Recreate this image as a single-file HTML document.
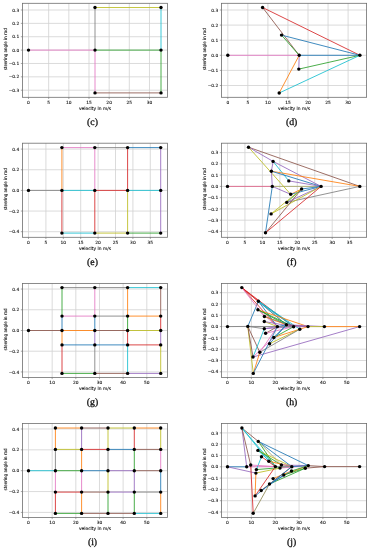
<!DOCTYPE html>
<html><head><meta charset="utf-8"><style>
html,body{margin:0;padding:0;background:#fff;width:369px;height:550px;overflow:hidden}
svg{display:block}
text{font-family:"DejaVu Sans","Liberation Sans",sans-serif;font-size:4.4px;fill:#111;stroke:#111;stroke-width:0.1px;text-rendering:geometricPrecision}
text.cap{font-family:"Liberation Serif","DejaVu Serif",serif;font-size:9.8px;fill:#111;stroke:#111;stroke-width:0.3px}
</style></head><body>
<svg width="369" height="550" viewBox="0 0 369 550">
<rect width="369" height="550" fill="#fff"/>
<line x1="28.50" y1="3.30" x2="28.50" y2="97.30" stroke="#d2d2d2" stroke-width="0.8"/>
<line x1="48.67" y1="3.30" x2="48.67" y2="97.30" stroke="#d2d2d2" stroke-width="0.8"/>
<line x1="68.83" y1="3.30" x2="68.83" y2="97.30" stroke="#d2d2d2" stroke-width="0.8"/>
<line x1="89.00" y1="3.30" x2="89.00" y2="97.30" stroke="#d2d2d2" stroke-width="0.8"/>
<line x1="109.16" y1="3.30" x2="109.16" y2="97.30" stroke="#d2d2d2" stroke-width="0.8"/>
<line x1="129.32" y1="3.30" x2="129.32" y2="97.30" stroke="#d2d2d2" stroke-width="0.8"/>
<line x1="149.49" y1="3.30" x2="149.49" y2="97.30" stroke="#d2d2d2" stroke-width="0.8"/>
<line x1="22.50" y1="90.21" x2="167.40" y2="90.21" stroke="#d2d2d2" stroke-width="0.8"/>
<line x1="22.50" y1="76.84" x2="167.40" y2="76.84" stroke="#d2d2d2" stroke-width="0.8"/>
<line x1="22.50" y1="63.47" x2="167.40" y2="63.47" stroke="#d2d2d2" stroke-width="0.8"/>
<line x1="22.50" y1="50.10" x2="167.40" y2="50.10" stroke="#d2d2d2" stroke-width="0.8"/>
<line x1="22.50" y1="36.73" x2="167.40" y2="36.73" stroke="#d2d2d2" stroke-width="0.8"/>
<line x1="22.50" y1="23.36" x2="167.40" y2="23.36" stroke="#d2d2d2" stroke-width="0.8"/>
<line x1="22.50" y1="9.99" x2="167.40" y2="9.99" stroke="#d2d2d2" stroke-width="0.8"/>
<line x1="28.50" y1="50.10" x2="95.00" y2="50.10" stroke="#e377c2" stroke-width="1.0" stroke-opacity="0.85"/>
<line x1="95.00" y1="50.10" x2="95.00" y2="7.50" stroke="#7f7f7f" stroke-width="1.0" stroke-opacity="0.85"/>
<line x1="95.00" y1="50.10" x2="95.00" y2="92.90" stroke="#e377c2" stroke-width="1.0" stroke-opacity="0.85"/>
<line x1="95.00" y1="7.50" x2="161.00" y2="7.50" stroke="#bcbd22" stroke-width="1.0" stroke-opacity="0.85"/>
<line x1="161.00" y1="7.50" x2="161.00" y2="50.10" stroke="#17becf" stroke-width="1.0" stroke-opacity="0.85"/>
<line x1="95.00" y1="50.10" x2="161.00" y2="50.10" stroke="#2ca02c" stroke-width="1.0" stroke-opacity="0.85"/>
<line x1="161.00" y1="50.10" x2="161.00" y2="92.90" stroke="#2ca02c" stroke-width="1.0" stroke-opacity="0.85"/>
<line x1="95.00" y1="92.90" x2="161.00" y2="92.90" stroke="#8c564b" stroke-width="1.0" stroke-opacity="0.85"/>
<circle cx="28.50" cy="50.10" r="1.7" fill="#000"/>
<circle cx="95.00" cy="7.50" r="1.7" fill="#000"/>
<circle cx="95.00" cy="50.10" r="1.7" fill="#000"/>
<circle cx="95.00" cy="92.90" r="1.7" fill="#000"/>
<circle cx="161.00" cy="7.50" r="1.7" fill="#000"/>
<circle cx="161.00" cy="50.10" r="1.7" fill="#000"/>
<circle cx="161.00" cy="92.90" r="1.7" fill="#000"/>
<rect x="22.50" y="3.30" width="144.90" height="94.00" fill="none" stroke="#6e6e6e" stroke-width="0.8"/>
<line x1="28.50" y1="97.30" x2="28.50" y2="99.00" stroke="#6e6e6e" stroke-width="0.6"/>
<text x="28.50" y="103.60" text-anchor="middle">0</text>
<line x1="48.67" y1="97.30" x2="48.67" y2="99.00" stroke="#6e6e6e" stroke-width="0.6"/>
<text x="48.67" y="103.60" text-anchor="middle">5</text>
<line x1="68.83" y1="97.30" x2="68.83" y2="99.00" stroke="#6e6e6e" stroke-width="0.6"/>
<text x="68.83" y="103.60" text-anchor="middle">10</text>
<line x1="89.00" y1="97.30" x2="89.00" y2="99.00" stroke="#6e6e6e" stroke-width="0.6"/>
<text x="89.00" y="103.60" text-anchor="middle">15</text>
<line x1="109.16" y1="97.30" x2="109.16" y2="99.00" stroke="#6e6e6e" stroke-width="0.6"/>
<text x="109.16" y="103.60" text-anchor="middle">20</text>
<line x1="129.32" y1="97.30" x2="129.32" y2="99.00" stroke="#6e6e6e" stroke-width="0.6"/>
<text x="129.32" y="103.60" text-anchor="middle">25</text>
<line x1="149.49" y1="97.30" x2="149.49" y2="99.00" stroke="#6e6e6e" stroke-width="0.6"/>
<text x="149.49" y="103.60" text-anchor="middle">30</text>
<line x1="20.80" y1="90.21" x2="22.50" y2="90.21" stroke="#6e6e6e" stroke-width="0.6"/>
<text x="19.30" y="91.81" text-anchor="end">−0.3</text>
<line x1="20.80" y1="76.84" x2="22.50" y2="76.84" stroke="#6e6e6e" stroke-width="0.6"/>
<text x="19.30" y="78.44" text-anchor="end">−0.2</text>
<line x1="20.80" y1="63.47" x2="22.50" y2="63.47" stroke="#6e6e6e" stroke-width="0.6"/>
<text x="19.30" y="65.07" text-anchor="end">−0.1</text>
<line x1="20.80" y1="50.10" x2="22.50" y2="50.10" stroke="#6e6e6e" stroke-width="0.6"/>
<text x="19.30" y="51.70" text-anchor="end">0.0</text>
<line x1="20.80" y1="36.73" x2="22.50" y2="36.73" stroke="#6e6e6e" stroke-width="0.6"/>
<text x="19.30" y="38.33" text-anchor="end">0.1</text>
<line x1="20.80" y1="23.36" x2="22.50" y2="23.36" stroke="#6e6e6e" stroke-width="0.6"/>
<text x="19.30" y="24.96" text-anchor="end">0.2</text>
<line x1="20.80" y1="9.99" x2="22.50" y2="9.99" stroke="#6e6e6e" stroke-width="0.6"/>
<text x="19.30" y="11.59" text-anchor="end">0.3</text>
<text x="94.95" y="109.90" text-anchor="middle">velocity in m/s</text>
<text transform="translate(6.50,49.30) rotate(-90) scale(0.92,1)" x="0" y="0" text-anchor="middle">steering angle in rad</text>
<text class="cap" x="92.50" y="125.30" text-anchor="middle">(c)</text>
<line x1="227.80" y1="3.30" x2="227.80" y2="97.30" stroke="#d2d2d2" stroke-width="0.8"/>
<line x1="247.85" y1="3.30" x2="247.85" y2="97.30" stroke="#d2d2d2" stroke-width="0.8"/>
<line x1="267.90" y1="3.30" x2="267.90" y2="97.30" stroke="#d2d2d2" stroke-width="0.8"/>
<line x1="287.95" y1="3.30" x2="287.95" y2="97.30" stroke="#d2d2d2" stroke-width="0.8"/>
<line x1="308.00" y1="3.30" x2="308.00" y2="97.30" stroke="#d2d2d2" stroke-width="0.8"/>
<line x1="328.05" y1="3.30" x2="328.05" y2="97.30" stroke="#d2d2d2" stroke-width="0.8"/>
<line x1="348.10" y1="3.30" x2="348.10" y2="97.30" stroke="#d2d2d2" stroke-width="0.8"/>
<line x1="221.50" y1="85.50" x2="366.60" y2="85.50" stroke="#d2d2d2" stroke-width="0.8"/>
<line x1="221.50" y1="70.40" x2="366.60" y2="70.40" stroke="#d2d2d2" stroke-width="0.8"/>
<line x1="221.50" y1="55.30" x2="366.60" y2="55.30" stroke="#d2d2d2" stroke-width="0.8"/>
<line x1="221.50" y1="40.20" x2="366.60" y2="40.20" stroke="#d2d2d2" stroke-width="0.8"/>
<line x1="221.50" y1="25.10" x2="366.60" y2="25.10" stroke="#d2d2d2" stroke-width="0.8"/>
<line x1="221.50" y1="10.00" x2="366.60" y2="10.00" stroke="#d2d2d2" stroke-width="0.8"/>
<line x1="227.80" y1="55.30" x2="299.20" y2="55.30" stroke="#e377c2" stroke-width="1.0" stroke-opacity="0.85"/>
<line x1="262.60" y1="7.50" x2="359.90" y2="55.30" stroke="#d62728" stroke-width="1.0" stroke-opacity="0.85"/>
<line x1="262.60" y1="7.50" x2="299.20" y2="55.30" stroke="#8c564b" stroke-width="1.0" stroke-opacity="0.85"/>
<line x1="281.50" y1="35.10" x2="299.20" y2="55.30" stroke="#2ca02c" stroke-width="1.0" stroke-opacity="0.85"/>
<line x1="281.50" y1="35.10" x2="359.90" y2="55.30" stroke="#1f77b4" stroke-width="1.0" stroke-opacity="0.85"/>
<line x1="299.20" y1="55.30" x2="359.90" y2="55.30" stroke="#1f77b4" stroke-width="1.0" stroke-opacity="0.85"/>
<line x1="299.20" y1="55.30" x2="298.80" y2="69.10" stroke="#9467bd" stroke-width="1.0" stroke-opacity="0.85"/>
<line x1="298.80" y1="69.10" x2="359.90" y2="55.30" stroke="#2ca02c" stroke-width="1.0" stroke-opacity="0.85"/>
<line x1="279.20" y1="93.00" x2="299.20" y2="55.30" stroke="#ff7f0e" stroke-width="1.0" stroke-opacity="0.85"/>
<line x1="279.20" y1="93.00" x2="359.90" y2="55.30" stroke="#17becf" stroke-width="1.0" stroke-opacity="0.85"/>
<circle cx="227.80" cy="55.30" r="1.7" fill="#000"/>
<circle cx="262.60" cy="7.50" r="1.7" fill="#000"/>
<circle cx="281.50" cy="35.10" r="1.7" fill="#000"/>
<circle cx="299.20" cy="55.30" r="1.7" fill="#000"/>
<circle cx="298.80" cy="69.10" r="1.7" fill="#000"/>
<circle cx="279.20" cy="93.00" r="1.7" fill="#000"/>
<circle cx="359.90" cy="55.30" r="1.7" fill="#000"/>
<rect x="221.50" y="3.30" width="145.10" height="94.00" fill="none" stroke="#6e6e6e" stroke-width="0.8"/>
<line x1="227.80" y1="97.30" x2="227.80" y2="99.00" stroke="#6e6e6e" stroke-width="0.6"/>
<text x="227.80" y="103.60" text-anchor="middle">0</text>
<line x1="247.85" y1="97.30" x2="247.85" y2="99.00" stroke="#6e6e6e" stroke-width="0.6"/>
<text x="247.85" y="103.60" text-anchor="middle">5</text>
<line x1="267.90" y1="97.30" x2="267.90" y2="99.00" stroke="#6e6e6e" stroke-width="0.6"/>
<text x="267.90" y="103.60" text-anchor="middle">10</text>
<line x1="287.95" y1="97.30" x2="287.95" y2="99.00" stroke="#6e6e6e" stroke-width="0.6"/>
<text x="287.95" y="103.60" text-anchor="middle">15</text>
<line x1="308.00" y1="97.30" x2="308.00" y2="99.00" stroke="#6e6e6e" stroke-width="0.6"/>
<text x="308.00" y="103.60" text-anchor="middle">20</text>
<line x1="328.05" y1="97.30" x2="328.05" y2="99.00" stroke="#6e6e6e" stroke-width="0.6"/>
<text x="328.05" y="103.60" text-anchor="middle">25</text>
<line x1="348.10" y1="97.30" x2="348.10" y2="99.00" stroke="#6e6e6e" stroke-width="0.6"/>
<text x="348.10" y="103.60" text-anchor="middle">30</text>
<line x1="219.80" y1="85.50" x2="221.50" y2="85.50" stroke="#6e6e6e" stroke-width="0.6"/>
<text x="218.30" y="87.10" text-anchor="end">−0.2</text>
<line x1="219.80" y1="70.40" x2="221.50" y2="70.40" stroke="#6e6e6e" stroke-width="0.6"/>
<text x="218.30" y="72.00" text-anchor="end">−0.1</text>
<line x1="219.80" y1="55.30" x2="221.50" y2="55.30" stroke="#6e6e6e" stroke-width="0.6"/>
<text x="218.30" y="56.90" text-anchor="end">0.0</text>
<line x1="219.80" y1="40.20" x2="221.50" y2="40.20" stroke="#6e6e6e" stroke-width="0.6"/>
<text x="218.30" y="41.80" text-anchor="end">0.1</text>
<line x1="219.80" y1="25.10" x2="221.50" y2="25.10" stroke="#6e6e6e" stroke-width="0.6"/>
<text x="218.30" y="26.70" text-anchor="end">0.2</text>
<line x1="219.80" y1="10.00" x2="221.50" y2="10.00" stroke="#6e6e6e" stroke-width="0.6"/>
<text x="218.30" y="11.60" text-anchor="end">0.3</text>
<text x="294.05" y="109.90" text-anchor="middle">velocity in m/s</text>
<text transform="translate(205.50,49.30) rotate(-90) scale(0.92,1)" x="0" y="0" text-anchor="middle">steering angle in rad</text>
<text class="cap" x="291.60" y="125.30" text-anchor="middle">(d)</text>
<line x1="28.50" y1="143.20" x2="28.50" y2="237.30" stroke="#d2d2d2" stroke-width="0.8"/>
<line x1="45.90" y1="143.20" x2="45.90" y2="237.30" stroke="#d2d2d2" stroke-width="0.8"/>
<line x1="63.30" y1="143.20" x2="63.30" y2="237.30" stroke="#d2d2d2" stroke-width="0.8"/>
<line x1="80.70" y1="143.20" x2="80.70" y2="237.30" stroke="#d2d2d2" stroke-width="0.8"/>
<line x1="98.10" y1="143.20" x2="98.10" y2="237.30" stroke="#d2d2d2" stroke-width="0.8"/>
<line x1="115.50" y1="143.20" x2="115.50" y2="237.30" stroke="#d2d2d2" stroke-width="0.8"/>
<line x1="132.90" y1="143.20" x2="132.90" y2="237.30" stroke="#d2d2d2" stroke-width="0.8"/>
<line x1="150.30" y1="143.20" x2="150.30" y2="237.30" stroke="#d2d2d2" stroke-width="0.8"/>
<line x1="22.50" y1="231.70" x2="167.40" y2="231.70" stroke="#d2d2d2" stroke-width="0.8"/>
<line x1="22.50" y1="211.05" x2="167.40" y2="211.05" stroke="#d2d2d2" stroke-width="0.8"/>
<line x1="22.50" y1="190.40" x2="167.40" y2="190.40" stroke="#d2d2d2" stroke-width="0.8"/>
<line x1="22.50" y1="169.75" x2="167.40" y2="169.75" stroke="#d2d2d2" stroke-width="0.8"/>
<line x1="22.50" y1="149.10" x2="167.40" y2="149.10" stroke="#d2d2d2" stroke-width="0.8"/>
<line x1="28.50" y1="190.40" x2="61.90" y2="190.40" stroke="#7f7f7f" stroke-width="1.0" stroke-opacity="0.85"/>
<line x1="61.90" y1="190.40" x2="61.90" y2="147.60" stroke="#ff7f0e" stroke-width="1.0" stroke-opacity="0.85"/>
<line x1="61.90" y1="147.60" x2="94.80" y2="147.60" stroke="#e377c2" stroke-width="1.0" stroke-opacity="0.85"/>
<line x1="94.80" y1="147.60" x2="94.80" y2="190.40" stroke="#e377c2" stroke-width="1.0" stroke-opacity="0.85"/>
<line x1="61.90" y1="190.40" x2="94.80" y2="190.40" stroke="#17becf" stroke-width="1.0" stroke-opacity="0.85"/>
<line x1="94.80" y1="190.40" x2="127.60" y2="190.40" stroke="#d62728" stroke-width="1.0" stroke-opacity="0.85"/>
<line x1="61.90" y1="190.40" x2="61.90" y2="233.10" stroke="#d62728" stroke-width="1.0" stroke-opacity="0.85"/>
<line x1="94.80" y1="190.40" x2="94.80" y2="233.10" stroke="#d62728" stroke-width="1.0" stroke-opacity="0.85"/>
<line x1="61.90" y1="233.10" x2="94.80" y2="233.10" stroke="#17becf" stroke-width="1.0" stroke-opacity="0.85"/>
<line x1="94.80" y1="233.10" x2="127.60" y2="233.10" stroke="#bcbd22" stroke-width="1.0" stroke-opacity="0.85"/>
<line x1="94.80" y1="147.60" x2="127.60" y2="147.60" stroke="#7f7f7f" stroke-width="1.0" stroke-opacity="0.85"/>
<line x1="127.60" y1="147.60" x2="127.60" y2="190.40" stroke="#d62728" stroke-width="1.0" stroke-opacity="0.85"/>
<line x1="127.60" y1="147.60" x2="160.70" y2="147.60" stroke="#1f77b4" stroke-width="1.0" stroke-opacity="0.85"/>
<line x1="160.70" y1="147.60" x2="160.70" y2="190.40" stroke="#9467bd" stroke-width="1.0" stroke-opacity="0.85"/>
<line x1="160.70" y1="190.40" x2="160.70" y2="233.10" stroke="#9467bd" stroke-width="1.0" stroke-opacity="0.85"/>
<line x1="127.60" y1="190.40" x2="160.70" y2="190.40" stroke="#17becf" stroke-width="1.0" stroke-opacity="0.85"/>
<line x1="127.60" y1="190.40" x2="127.60" y2="233.10" stroke="#bcbd22" stroke-width="1.0" stroke-opacity="0.85"/>
<line x1="127.60" y1="233.10" x2="160.70" y2="233.10" stroke="#2ca02c" stroke-width="1.0" stroke-opacity="0.85"/>
<circle cx="28.50" cy="190.40" r="1.7" fill="#000"/>
<circle cx="61.90" cy="147.60" r="1.7" fill="#000"/>
<circle cx="61.90" cy="190.40" r="1.7" fill="#000"/>
<circle cx="61.90" cy="233.10" r="1.7" fill="#000"/>
<circle cx="94.80" cy="147.60" r="1.7" fill="#000"/>
<circle cx="94.80" cy="190.40" r="1.7" fill="#000"/>
<circle cx="94.80" cy="233.10" r="1.7" fill="#000"/>
<circle cx="127.60" cy="147.60" r="1.7" fill="#000"/>
<circle cx="127.60" cy="190.40" r="1.7" fill="#000"/>
<circle cx="127.60" cy="233.10" r="1.7" fill="#000"/>
<circle cx="160.70" cy="147.60" r="1.7" fill="#000"/>
<circle cx="160.70" cy="190.40" r="1.7" fill="#000"/>
<circle cx="160.70" cy="233.10" r="1.7" fill="#000"/>
<rect x="22.50" y="143.20" width="144.90" height="94.10" fill="none" stroke="#6e6e6e" stroke-width="0.8"/>
<line x1="28.50" y1="237.30" x2="28.50" y2="239.00" stroke="#6e6e6e" stroke-width="0.6"/>
<text x="28.50" y="243.60" text-anchor="middle">0</text>
<line x1="45.90" y1="237.30" x2="45.90" y2="239.00" stroke="#6e6e6e" stroke-width="0.6"/>
<text x="45.90" y="243.60" text-anchor="middle">5</text>
<line x1="63.30" y1="237.30" x2="63.30" y2="239.00" stroke="#6e6e6e" stroke-width="0.6"/>
<text x="63.30" y="243.60" text-anchor="middle">10</text>
<line x1="80.70" y1="237.30" x2="80.70" y2="239.00" stroke="#6e6e6e" stroke-width="0.6"/>
<text x="80.70" y="243.60" text-anchor="middle">15</text>
<line x1="98.10" y1="237.30" x2="98.10" y2="239.00" stroke="#6e6e6e" stroke-width="0.6"/>
<text x="98.10" y="243.60" text-anchor="middle">20</text>
<line x1="115.50" y1="237.30" x2="115.50" y2="239.00" stroke="#6e6e6e" stroke-width="0.6"/>
<text x="115.50" y="243.60" text-anchor="middle">25</text>
<line x1="132.90" y1="237.30" x2="132.90" y2="239.00" stroke="#6e6e6e" stroke-width="0.6"/>
<text x="132.90" y="243.60" text-anchor="middle">30</text>
<line x1="150.30" y1="237.30" x2="150.30" y2="239.00" stroke="#6e6e6e" stroke-width="0.6"/>
<text x="150.30" y="243.60" text-anchor="middle">35</text>
<line x1="20.80" y1="231.70" x2="22.50" y2="231.70" stroke="#6e6e6e" stroke-width="0.6"/>
<text x="19.30" y="233.30" text-anchor="end">−0.4</text>
<line x1="20.80" y1="211.05" x2="22.50" y2="211.05" stroke="#6e6e6e" stroke-width="0.6"/>
<text x="19.30" y="212.65" text-anchor="end">−0.2</text>
<line x1="20.80" y1="190.40" x2="22.50" y2="190.40" stroke="#6e6e6e" stroke-width="0.6"/>
<text x="19.30" y="192.00" text-anchor="end">0.0</text>
<line x1="20.80" y1="169.75" x2="22.50" y2="169.75" stroke="#6e6e6e" stroke-width="0.6"/>
<text x="19.30" y="171.35" text-anchor="end">0.2</text>
<line x1="20.80" y1="149.10" x2="22.50" y2="149.10" stroke="#6e6e6e" stroke-width="0.6"/>
<text x="19.30" y="150.70" text-anchor="end">0.4</text>
<text x="94.95" y="249.90" text-anchor="middle">velocity in m/s</text>
<text transform="translate(6.50,189.25) rotate(-90) scale(0.92,1)" x="0" y="0" text-anchor="middle">steering angle in rad</text>
<text class="cap" x="92.50" y="265.30" text-anchor="middle">(e)</text>
<line x1="28.50" y1="283.40" x2="28.50" y2="377.40" stroke="#d2d2d2" stroke-width="0.8"/>
<line x1="52.16" y1="283.40" x2="52.16" y2="377.40" stroke="#d2d2d2" stroke-width="0.8"/>
<line x1="75.82" y1="283.40" x2="75.82" y2="377.40" stroke="#d2d2d2" stroke-width="0.8"/>
<line x1="99.48" y1="283.40" x2="99.48" y2="377.40" stroke="#d2d2d2" stroke-width="0.8"/>
<line x1="123.14" y1="283.40" x2="123.14" y2="377.40" stroke="#d2d2d2" stroke-width="0.8"/>
<line x1="146.80" y1="283.40" x2="146.80" y2="377.40" stroke="#d2d2d2" stroke-width="0.8"/>
<line x1="22.50" y1="371.94" x2="167.40" y2="371.94" stroke="#d2d2d2" stroke-width="0.8"/>
<line x1="22.50" y1="351.22" x2="167.40" y2="351.22" stroke="#d2d2d2" stroke-width="0.8"/>
<line x1="22.50" y1="330.50" x2="167.40" y2="330.50" stroke="#d2d2d2" stroke-width="0.8"/>
<line x1="22.50" y1="309.78" x2="167.40" y2="309.78" stroke="#d2d2d2" stroke-width="0.8"/>
<line x1="22.50" y1="289.06" x2="167.40" y2="289.06" stroke="#d2d2d2" stroke-width="0.8"/>
<line x1="28.50" y1="330.50" x2="62.00" y2="330.50" stroke="#8c564b" stroke-width="1.0" stroke-opacity="0.85"/>
<line x1="62.00" y1="287.60" x2="62.00" y2="316.10" stroke="#2ca02c" stroke-width="1.0" stroke-opacity="0.85"/>
<line x1="62.00" y1="287.60" x2="94.80" y2="287.60" stroke="#7f7f7f" stroke-width="1.0" stroke-opacity="0.85"/>
<line x1="62.00" y1="316.10" x2="62.00" y2="330.50" stroke="#1f77b4" stroke-width="1.0" stroke-opacity="0.85"/>
<line x1="62.00" y1="316.10" x2="94.80" y2="316.10" stroke="#e377c2" stroke-width="1.0" stroke-opacity="0.85"/>
<line x1="94.80" y1="287.60" x2="94.80" y2="316.10" stroke="#e377c2" stroke-width="1.0" stroke-opacity="0.85"/>
<line x1="62.00" y1="330.50" x2="94.80" y2="330.50" stroke="#ff7f0e" stroke-width="1.0" stroke-opacity="0.85"/>
<line x1="62.00" y1="330.50" x2="62.00" y2="344.90" stroke="#ff7f0e" stroke-width="1.0" stroke-opacity="0.85"/>
<line x1="94.80" y1="316.10" x2="94.80" y2="330.50" stroke="#1f77b4" stroke-width="1.0" stroke-opacity="0.85"/>
<line x1="94.80" y1="330.50" x2="94.80" y2="344.90" stroke="#9467bd" stroke-width="1.0" stroke-opacity="0.85"/>
<line x1="62.00" y1="344.90" x2="94.80" y2="344.90" stroke="#1f77b4" stroke-width="1.0" stroke-opacity="0.85"/>
<line x1="62.00" y1="344.90" x2="62.00" y2="373.40" stroke="#d62728" stroke-width="1.0" stroke-opacity="0.85"/>
<line x1="62.00" y1="373.40" x2="94.80" y2="373.40" stroke="#2ca02c" stroke-width="1.0" stroke-opacity="0.85"/>
<line x1="94.80" y1="344.90" x2="94.80" y2="373.40" stroke="#7f7f7f" stroke-width="1.0" stroke-opacity="0.85"/>
<line x1="94.80" y1="316.10" x2="127.60" y2="316.10" stroke="#7f7f7f" stroke-width="1.0" stroke-opacity="0.85"/>
<line x1="94.80" y1="330.50" x2="127.60" y2="330.50" stroke="#8c564b" stroke-width="1.0" stroke-opacity="0.85"/>
<line x1="94.80" y1="344.90" x2="127.60" y2="344.90" stroke="#1f77b4" stroke-width="1.0" stroke-opacity="0.85"/>
<line x1="94.80" y1="373.40" x2="127.60" y2="373.40" stroke="#8c564b" stroke-width="1.0" stroke-opacity="0.85"/>
<line x1="94.80" y1="287.60" x2="127.60" y2="287.60" stroke="#7f7f7f" stroke-width="1.0" stroke-opacity="0.85"/>
<line x1="127.60" y1="287.60" x2="160.70" y2="287.60" stroke="#17becf" stroke-width="1.0" stroke-opacity="0.85"/>
<line x1="127.60" y1="287.60" x2="127.60" y2="316.10" stroke="#ff7f0e" stroke-width="1.0" stroke-opacity="0.85"/>
<line x1="160.70" y1="287.60" x2="160.70" y2="316.10" stroke="#8c564b" stroke-width="1.0" stroke-opacity="0.85"/>
<line x1="127.60" y1="316.10" x2="160.70" y2="316.10" stroke="#ff7f0e" stroke-width="1.0" stroke-opacity="0.85"/>
<line x1="127.60" y1="316.10" x2="127.60" y2="330.50" stroke="#2ca02c" stroke-width="1.0" stroke-opacity="0.85"/>
<line x1="160.70" y1="316.10" x2="160.70" y2="330.50" stroke="#d62728" stroke-width="1.0" stroke-opacity="0.85"/>
<line x1="127.60" y1="330.50" x2="160.70" y2="330.50" stroke="#bcbd22" stroke-width="1.0" stroke-opacity="0.85"/>
<line x1="127.60" y1="330.50" x2="127.60" y2="344.90" stroke="#d62728" stroke-width="1.0" stroke-opacity="0.85"/>
<line x1="160.70" y1="330.50" x2="160.70" y2="344.90" stroke="#9467bd" stroke-width="1.0" stroke-opacity="0.85"/>
<line x1="127.60" y1="344.90" x2="160.70" y2="344.90" stroke="#d62728" stroke-width="1.0" stroke-opacity="0.85"/>
<line x1="127.60" y1="344.90" x2="127.60" y2="373.40" stroke="#17becf" stroke-width="1.0" stroke-opacity="0.85"/>
<line x1="160.70" y1="344.90" x2="160.70" y2="373.40" stroke="#bcbd22" stroke-width="1.0" stroke-opacity="0.85"/>
<line x1="127.60" y1="373.40" x2="160.70" y2="373.40" stroke="#9467bd" stroke-width="1.0" stroke-opacity="0.85"/>
<circle cx="28.50" cy="330.50" r="1.7" fill="#000"/>
<circle cx="62.00" cy="287.60" r="1.7" fill="#000"/>
<circle cx="62.00" cy="316.10" r="1.7" fill="#000"/>
<circle cx="62.00" cy="330.50" r="1.7" fill="#000"/>
<circle cx="62.00" cy="344.90" r="1.7" fill="#000"/>
<circle cx="62.00" cy="373.40" r="1.7" fill="#000"/>
<circle cx="94.80" cy="287.60" r="1.7" fill="#000"/>
<circle cx="94.80" cy="316.10" r="1.7" fill="#000"/>
<circle cx="94.80" cy="330.50" r="1.7" fill="#000"/>
<circle cx="94.80" cy="344.90" r="1.7" fill="#000"/>
<circle cx="94.80" cy="373.40" r="1.7" fill="#000"/>
<circle cx="127.60" cy="287.60" r="1.7" fill="#000"/>
<circle cx="127.60" cy="316.10" r="1.7" fill="#000"/>
<circle cx="127.60" cy="330.50" r="1.7" fill="#000"/>
<circle cx="127.60" cy="344.90" r="1.7" fill="#000"/>
<circle cx="127.60" cy="373.40" r="1.7" fill="#000"/>
<circle cx="160.70" cy="287.60" r="1.7" fill="#000"/>
<circle cx="160.70" cy="316.10" r="1.7" fill="#000"/>
<circle cx="160.70" cy="330.50" r="1.7" fill="#000"/>
<circle cx="160.70" cy="344.90" r="1.7" fill="#000"/>
<circle cx="160.70" cy="373.40" r="1.7" fill="#000"/>
<rect x="22.50" y="283.40" width="144.90" height="94.00" fill="none" stroke="#6e6e6e" stroke-width="0.8"/>
<line x1="28.50" y1="377.40" x2="28.50" y2="379.10" stroke="#6e6e6e" stroke-width="0.6"/>
<text x="28.50" y="383.70" text-anchor="middle">0</text>
<line x1="52.16" y1="377.40" x2="52.16" y2="379.10" stroke="#6e6e6e" stroke-width="0.6"/>
<text x="52.16" y="383.70" text-anchor="middle">10</text>
<line x1="75.82" y1="377.40" x2="75.82" y2="379.10" stroke="#6e6e6e" stroke-width="0.6"/>
<text x="75.82" y="383.70" text-anchor="middle">20</text>
<line x1="99.48" y1="377.40" x2="99.48" y2="379.10" stroke="#6e6e6e" stroke-width="0.6"/>
<text x="99.48" y="383.70" text-anchor="middle">30</text>
<line x1="123.14" y1="377.40" x2="123.14" y2="379.10" stroke="#6e6e6e" stroke-width="0.6"/>
<text x="123.14" y="383.70" text-anchor="middle">40</text>
<line x1="146.80" y1="377.40" x2="146.80" y2="379.10" stroke="#6e6e6e" stroke-width="0.6"/>
<text x="146.80" y="383.70" text-anchor="middle">50</text>
<line x1="20.80" y1="371.94" x2="22.50" y2="371.94" stroke="#6e6e6e" stroke-width="0.6"/>
<text x="19.30" y="373.54" text-anchor="end">−0.4</text>
<line x1="20.80" y1="351.22" x2="22.50" y2="351.22" stroke="#6e6e6e" stroke-width="0.6"/>
<text x="19.30" y="352.82" text-anchor="end">−0.2</text>
<line x1="20.80" y1="330.50" x2="22.50" y2="330.50" stroke="#6e6e6e" stroke-width="0.6"/>
<text x="19.30" y="332.10" text-anchor="end">0.0</text>
<line x1="20.80" y1="309.78" x2="22.50" y2="309.78" stroke="#6e6e6e" stroke-width="0.6"/>
<text x="19.30" y="311.38" text-anchor="end">0.2</text>
<line x1="20.80" y1="289.06" x2="22.50" y2="289.06" stroke="#6e6e6e" stroke-width="0.6"/>
<text x="19.30" y="290.66" text-anchor="end">0.4</text>
<text x="94.95" y="390.00" text-anchor="middle">velocity in m/s</text>
<text transform="translate(6.50,329.40) rotate(-90) scale(0.92,1)" x="0" y="0" text-anchor="middle">steering angle in rad</text>
<text class="cap" x="92.50" y="405.30" text-anchor="middle">(g)</text>
<line x1="28.50" y1="423.40" x2="28.50" y2="517.40" stroke="#d2d2d2" stroke-width="0.8"/>
<line x1="52.16" y1="423.40" x2="52.16" y2="517.40" stroke="#d2d2d2" stroke-width="0.8"/>
<line x1="75.82" y1="423.40" x2="75.82" y2="517.40" stroke="#d2d2d2" stroke-width="0.8"/>
<line x1="99.48" y1="423.40" x2="99.48" y2="517.40" stroke="#d2d2d2" stroke-width="0.8"/>
<line x1="123.14" y1="423.40" x2="123.14" y2="517.40" stroke="#d2d2d2" stroke-width="0.8"/>
<line x1="146.80" y1="423.40" x2="146.80" y2="517.40" stroke="#d2d2d2" stroke-width="0.8"/>
<line x1="22.50" y1="512.42" x2="167.40" y2="512.42" stroke="#d2d2d2" stroke-width="0.8"/>
<line x1="22.50" y1="491.56" x2="167.40" y2="491.56" stroke="#d2d2d2" stroke-width="0.8"/>
<line x1="22.50" y1="470.70" x2="167.40" y2="470.70" stroke="#d2d2d2" stroke-width="0.8"/>
<line x1="22.50" y1="449.84" x2="167.40" y2="449.84" stroke="#d2d2d2" stroke-width="0.8"/>
<line x1="22.50" y1="428.98" x2="167.40" y2="428.98" stroke="#d2d2d2" stroke-width="0.8"/>
<line x1="28.50" y1="470.70" x2="55.40" y2="470.70" stroke="#17becf" stroke-width="1.0" stroke-opacity="0.85"/>
<line x1="55.40" y1="428.00" x2="55.40" y2="449.40" stroke="#ff7f0e" stroke-width="1.0" stroke-opacity="0.85"/>
<line x1="55.40" y1="449.40" x2="55.40" y2="470.70" stroke="#7f7f7f" stroke-width="1.0" stroke-opacity="0.85"/>
<line x1="55.40" y1="470.70" x2="55.40" y2="492.10" stroke="#e377c2" stroke-width="1.0" stroke-opacity="0.85"/>
<line x1="55.40" y1="492.10" x2="55.40" y2="513.40" stroke="#d62728" stroke-width="1.0" stroke-opacity="0.85"/>
<line x1="81.60" y1="428.00" x2="81.60" y2="449.40" stroke="#9467bd" stroke-width="1.0" stroke-opacity="0.85"/>
<line x1="81.60" y1="449.40" x2="81.60" y2="470.70" stroke="#ff7f0e" stroke-width="1.0" stroke-opacity="0.85"/>
<line x1="81.60" y1="470.70" x2="81.60" y2="492.10" stroke="#e377c2" stroke-width="1.0" stroke-opacity="0.85"/>
<line x1="81.60" y1="492.10" x2="81.60" y2="513.40" stroke="#ff7f0e" stroke-width="1.0" stroke-opacity="0.85"/>
<line x1="108.00" y1="428.00" x2="108.00" y2="449.40" stroke="#bcbd22" stroke-width="1.0" stroke-opacity="0.85"/>
<line x1="108.00" y1="449.40" x2="108.00" y2="470.70" stroke="#7f7f7f" stroke-width="1.0" stroke-opacity="0.85"/>
<line x1="108.00" y1="470.70" x2="108.00" y2="492.10" stroke="#bcbd22" stroke-width="1.0" stroke-opacity="0.85"/>
<line x1="108.00" y1="492.10" x2="108.00" y2="513.40" stroke="#2ca02c" stroke-width="1.0" stroke-opacity="0.85"/>
<line x1="134.30" y1="428.00" x2="134.30" y2="449.40" stroke="#d62728" stroke-width="1.0" stroke-opacity="0.85"/>
<line x1="134.30" y1="449.40" x2="134.30" y2="470.70" stroke="#2ca02c" stroke-width="1.0" stroke-opacity="0.85"/>
<line x1="134.30" y1="470.70" x2="134.30" y2="492.10" stroke="#9467bd" stroke-width="1.0" stroke-opacity="0.85"/>
<line x1="134.30" y1="492.10" x2="134.30" y2="513.40" stroke="#2ca02c" stroke-width="1.0" stroke-opacity="0.85"/>
<line x1="160.70" y1="428.00" x2="160.70" y2="449.40" stroke="#bcbd22" stroke-width="1.0" stroke-opacity="0.85"/>
<line x1="160.70" y1="449.40" x2="160.70" y2="470.70" stroke="#e377c2" stroke-width="1.0" stroke-opacity="0.85"/>
<line x1="160.70" y1="470.70" x2="160.70" y2="492.10" stroke="#1f77b4" stroke-width="1.0" stroke-opacity="0.85"/>
<line x1="160.70" y1="492.10" x2="160.70" y2="513.40" stroke="#ff7f0e" stroke-width="1.0" stroke-opacity="0.85"/>
<line x1="55.40" y1="428.00" x2="81.60" y2="428.00" stroke="#ff7f0e" stroke-width="1.0" stroke-opacity="0.85"/>
<line x1="81.60" y1="428.00" x2="108.00" y2="428.00" stroke="#8c564b" stroke-width="1.0" stroke-opacity="0.85"/>
<line x1="108.00" y1="428.00" x2="134.30" y2="428.00" stroke="#bcbd22" stroke-width="1.0" stroke-opacity="0.85"/>
<line x1="134.30" y1="428.00" x2="160.70" y2="428.00" stroke="#ff7f0e" stroke-width="1.0" stroke-opacity="0.85"/>
<line x1="55.40" y1="449.40" x2="81.60" y2="449.40" stroke="#bcbd22" stroke-width="1.0" stroke-opacity="0.85"/>
<line x1="81.60" y1="449.40" x2="108.00" y2="449.40" stroke="#d62728" stroke-width="1.0" stroke-opacity="0.85"/>
<line x1="108.00" y1="449.40" x2="134.30" y2="449.40" stroke="#1f77b4" stroke-width="1.0" stroke-opacity="0.85"/>
<line x1="134.30" y1="449.40" x2="160.70" y2="449.40" stroke="#8c564b" stroke-width="1.0" stroke-opacity="0.85"/>
<line x1="55.40" y1="470.70" x2="81.60" y2="470.70" stroke="#2ca02c" stroke-width="1.0" stroke-opacity="0.85"/>
<line x1="81.60" y1="470.70" x2="108.00" y2="470.70" stroke="#1f77b4" stroke-width="1.0" stroke-opacity="0.85"/>
<line x1="108.00" y1="470.70" x2="134.30" y2="470.70" stroke="#9467bd" stroke-width="1.0" stroke-opacity="0.85"/>
<line x1="134.30" y1="470.70" x2="160.70" y2="470.70" stroke="#8c564b" stroke-width="1.0" stroke-opacity="0.85"/>
<line x1="55.40" y1="492.10" x2="81.60" y2="492.10" stroke="#d62728" stroke-width="1.0" stroke-opacity="0.85"/>
<line x1="81.60" y1="492.10" x2="108.00" y2="492.10" stroke="#8c564b" stroke-width="1.0" stroke-opacity="0.85"/>
<line x1="108.00" y1="492.10" x2="134.30" y2="492.10" stroke="#9467bd" stroke-width="1.0" stroke-opacity="0.85"/>
<line x1="134.30" y1="492.10" x2="160.70" y2="492.10" stroke="#7f7f7f" stroke-width="1.0" stroke-opacity="0.85"/>
<line x1="55.40" y1="513.40" x2="81.60" y2="513.40" stroke="#2ca02c" stroke-width="1.0" stroke-opacity="0.85"/>
<line x1="81.60" y1="513.40" x2="108.00" y2="513.40" stroke="#8c564b" stroke-width="1.0" stroke-opacity="0.85"/>
<line x1="108.00" y1="513.40" x2="134.30" y2="513.40" stroke="#8c564b" stroke-width="1.0" stroke-opacity="0.85"/>
<line x1="134.30" y1="513.40" x2="160.70" y2="513.40" stroke="#17becf" stroke-width="1.0" stroke-opacity="0.85"/>
<circle cx="28.50" cy="470.70" r="1.7" fill="#000"/>
<circle cx="55.40" cy="428.00" r="1.7" fill="#000"/>
<circle cx="55.40" cy="449.40" r="1.7" fill="#000"/>
<circle cx="55.40" cy="470.70" r="1.7" fill="#000"/>
<circle cx="55.40" cy="492.10" r="1.7" fill="#000"/>
<circle cx="55.40" cy="513.40" r="1.7" fill="#000"/>
<circle cx="81.60" cy="428.00" r="1.7" fill="#000"/>
<circle cx="81.60" cy="449.40" r="1.7" fill="#000"/>
<circle cx="81.60" cy="470.70" r="1.7" fill="#000"/>
<circle cx="81.60" cy="492.10" r="1.7" fill="#000"/>
<circle cx="81.60" cy="513.40" r="1.7" fill="#000"/>
<circle cx="108.00" cy="428.00" r="1.7" fill="#000"/>
<circle cx="108.00" cy="449.40" r="1.7" fill="#000"/>
<circle cx="108.00" cy="470.70" r="1.7" fill="#000"/>
<circle cx="108.00" cy="492.10" r="1.7" fill="#000"/>
<circle cx="108.00" cy="513.40" r="1.7" fill="#000"/>
<circle cx="134.30" cy="428.00" r="1.7" fill="#000"/>
<circle cx="134.30" cy="449.40" r="1.7" fill="#000"/>
<circle cx="134.30" cy="470.70" r="1.7" fill="#000"/>
<circle cx="134.30" cy="492.10" r="1.7" fill="#000"/>
<circle cx="134.30" cy="513.40" r="1.7" fill="#000"/>
<circle cx="160.70" cy="428.00" r="1.7" fill="#000"/>
<circle cx="160.70" cy="449.40" r="1.7" fill="#000"/>
<circle cx="160.70" cy="470.70" r="1.7" fill="#000"/>
<circle cx="160.70" cy="492.10" r="1.7" fill="#000"/>
<circle cx="160.70" cy="513.40" r="1.7" fill="#000"/>
<rect x="22.50" y="423.40" width="144.90" height="94.00" fill="none" stroke="#6e6e6e" stroke-width="0.8"/>
<line x1="28.50" y1="517.40" x2="28.50" y2="519.10" stroke="#6e6e6e" stroke-width="0.6"/>
<text x="28.50" y="523.70" text-anchor="middle">0</text>
<line x1="52.16" y1="517.40" x2="52.16" y2="519.10" stroke="#6e6e6e" stroke-width="0.6"/>
<text x="52.16" y="523.70" text-anchor="middle">10</text>
<line x1="75.82" y1="517.40" x2="75.82" y2="519.10" stroke="#6e6e6e" stroke-width="0.6"/>
<text x="75.82" y="523.70" text-anchor="middle">20</text>
<line x1="99.48" y1="517.40" x2="99.48" y2="519.10" stroke="#6e6e6e" stroke-width="0.6"/>
<text x="99.48" y="523.70" text-anchor="middle">30</text>
<line x1="123.14" y1="517.40" x2="123.14" y2="519.10" stroke="#6e6e6e" stroke-width="0.6"/>
<text x="123.14" y="523.70" text-anchor="middle">40</text>
<line x1="146.80" y1="517.40" x2="146.80" y2="519.10" stroke="#6e6e6e" stroke-width="0.6"/>
<text x="146.80" y="523.70" text-anchor="middle">50</text>
<line x1="20.80" y1="512.42" x2="22.50" y2="512.42" stroke="#6e6e6e" stroke-width="0.6"/>
<text x="19.30" y="514.02" text-anchor="end">−0.4</text>
<line x1="20.80" y1="491.56" x2="22.50" y2="491.56" stroke="#6e6e6e" stroke-width="0.6"/>
<text x="19.30" y="493.16" text-anchor="end">−0.2</text>
<line x1="20.80" y1="470.70" x2="22.50" y2="470.70" stroke="#6e6e6e" stroke-width="0.6"/>
<text x="19.30" y="472.30" text-anchor="end">0.0</text>
<line x1="20.80" y1="449.84" x2="22.50" y2="449.84" stroke="#6e6e6e" stroke-width="0.6"/>
<text x="19.30" y="451.44" text-anchor="end">0.2</text>
<line x1="20.80" y1="428.98" x2="22.50" y2="428.98" stroke="#6e6e6e" stroke-width="0.6"/>
<text x="19.30" y="430.58" text-anchor="end">0.4</text>
<text x="94.95" y="530.00" text-anchor="middle">velocity in m/s</text>
<text transform="translate(6.50,469.40) rotate(-90) scale(0.92,1)" x="0" y="0" text-anchor="middle">steering angle in rad</text>
<text class="cap" x="92.50" y="545.30" text-anchor="middle">(i)</text>
<line x1="227.50" y1="143.20" x2="227.50" y2="237.30" stroke="#d2d2d2" stroke-width="0.8"/>
<line x1="244.95" y1="143.20" x2="244.95" y2="237.30" stroke="#d2d2d2" stroke-width="0.8"/>
<line x1="262.40" y1="143.20" x2="262.40" y2="237.30" stroke="#d2d2d2" stroke-width="0.8"/>
<line x1="279.85" y1="143.20" x2="279.85" y2="237.30" stroke="#d2d2d2" stroke-width="0.8"/>
<line x1="297.30" y1="143.20" x2="297.30" y2="237.30" stroke="#d2d2d2" stroke-width="0.8"/>
<line x1="314.75" y1="143.20" x2="314.75" y2="237.30" stroke="#d2d2d2" stroke-width="0.8"/>
<line x1="332.20" y1="143.20" x2="332.20" y2="237.30" stroke="#d2d2d2" stroke-width="0.8"/>
<line x1="349.65" y1="143.20" x2="349.65" y2="237.30" stroke="#d2d2d2" stroke-width="0.8"/>
<line x1="221.50" y1="231.44" x2="366.60" y2="231.44" stroke="#d2d2d2" stroke-width="0.8"/>
<line x1="221.50" y1="220.18" x2="366.60" y2="220.18" stroke="#d2d2d2" stroke-width="0.8"/>
<line x1="221.50" y1="208.92" x2="366.60" y2="208.92" stroke="#d2d2d2" stroke-width="0.8"/>
<line x1="221.50" y1="197.66" x2="366.60" y2="197.66" stroke="#d2d2d2" stroke-width="0.8"/>
<line x1="221.50" y1="186.40" x2="366.60" y2="186.40" stroke="#d2d2d2" stroke-width="0.8"/>
<line x1="221.50" y1="175.14" x2="366.60" y2="175.14" stroke="#d2d2d2" stroke-width="0.8"/>
<line x1="221.50" y1="163.88" x2="366.60" y2="163.88" stroke="#d2d2d2" stroke-width="0.8"/>
<line x1="221.50" y1="152.62" x2="366.60" y2="152.62" stroke="#d2d2d2" stroke-width="0.8"/>
<line x1="227.50" y1="186.40" x2="272.30" y2="186.40" stroke="#de5f85" stroke-width="1.0" stroke-opacity="0.85"/>
<line x1="272.30" y1="186.40" x2="321.10" y2="186.40" stroke="#a9a86a" stroke-width="1.0" stroke-opacity="0.85"/>
<line x1="248.50" y1="147.20" x2="359.80" y2="186.40" stroke="#8c564b" stroke-width="1.0" stroke-opacity="0.85"/>
<line x1="248.50" y1="147.20" x2="273.10" y2="161.40" stroke="#9467bd" stroke-width="1.0" stroke-opacity="0.85"/>
<line x1="248.50" y1="147.20" x2="290.70" y2="194.30" stroke="#bcbd22" stroke-width="1.0" stroke-opacity="0.85"/>
<line x1="273.10" y1="161.40" x2="271.40" y2="171.20" stroke="#9467bd" stroke-width="1.0" stroke-opacity="0.85"/>
<line x1="273.10" y1="161.40" x2="321.10" y2="186.40" stroke="#9467bd" stroke-width="1.0" stroke-opacity="0.85"/>
<line x1="273.10" y1="161.40" x2="288.80" y2="180.90" stroke="#17becf" stroke-width="1.0" stroke-opacity="0.85"/>
<line x1="271.40" y1="171.20" x2="359.80" y2="186.40" stroke="#ff7f0e" stroke-width="1.0" stroke-opacity="0.85"/>
<line x1="271.40" y1="171.20" x2="321.10" y2="186.40" stroke="#1f77b4" stroke-width="1.0" stroke-opacity="0.85"/>
<line x1="271.40" y1="171.20" x2="272.30" y2="186.40" stroke="#9467bd" stroke-width="1.0" stroke-opacity="0.85"/>
<line x1="272.30" y1="186.40" x2="290.70" y2="194.30" stroke="#9467bd" stroke-width="1.0" stroke-opacity="0.85"/>
<line x1="272.30" y1="186.40" x2="265.50" y2="232.80" stroke="#1f77b4" stroke-width="1.0" stroke-opacity="0.85"/>
<line x1="288.80" y1="180.90" x2="321.10" y2="186.40" stroke="#9467bd" stroke-width="1.0" stroke-opacity="0.85"/>
<line x1="290.70" y1="194.30" x2="301.60" y2="189.00" stroke="#ff7f0e" stroke-width="1.0" stroke-opacity="0.85"/>
<line x1="290.70" y1="194.30" x2="321.10" y2="186.40" stroke="#1f77b4" stroke-width="1.0" stroke-opacity="0.85"/>
<line x1="301.60" y1="189.00" x2="321.10" y2="186.40" stroke="#1f77b4" stroke-width="1.0" stroke-opacity="0.85"/>
<line x1="286.70" y1="202.40" x2="301.60" y2="189.00" stroke="#2ca02c" stroke-width="1.0" stroke-opacity="0.85"/>
<line x1="286.70" y1="202.40" x2="321.10" y2="186.40" stroke="#9467bd" stroke-width="1.0" stroke-opacity="0.85"/>
<line x1="286.70" y1="202.40" x2="359.80" y2="186.40" stroke="#7f7f7f" stroke-width="1.0" stroke-opacity="0.85"/>
<line x1="271.10" y1="213.90" x2="301.60" y2="189.00" stroke="#bcbd22" stroke-width="1.0" stroke-opacity="0.85"/>
<line x1="271.10" y1="213.90" x2="321.10" y2="186.40" stroke="#bcbd22" stroke-width="1.0" stroke-opacity="0.85"/>
<line x1="265.50" y1="232.80" x2="301.60" y2="189.00" stroke="#8c564b" stroke-width="1.0" stroke-opacity="0.85"/>
<line x1="265.50" y1="232.80" x2="321.10" y2="186.40" stroke="#d62728" stroke-width="1.0" stroke-opacity="0.85"/>
<circle cx="227.50" cy="186.40" r="1.7" fill="#000"/>
<circle cx="248.50" cy="147.20" r="1.7" fill="#000"/>
<circle cx="273.10" cy="161.40" r="1.7" fill="#000"/>
<circle cx="271.40" cy="171.20" r="1.7" fill="#000"/>
<circle cx="272.30" cy="186.40" r="1.7" fill="#000"/>
<circle cx="288.80" cy="180.90" r="1.7" fill="#000"/>
<circle cx="290.70" cy="194.30" r="1.7" fill="#000"/>
<circle cx="301.60" cy="189.00" r="1.7" fill="#000"/>
<circle cx="286.70" cy="202.40" r="1.7" fill="#000"/>
<circle cx="271.10" cy="213.90" r="1.7" fill="#000"/>
<circle cx="265.50" cy="232.80" r="1.7" fill="#000"/>
<circle cx="321.10" cy="186.40" r="1.7" fill="#000"/>
<circle cx="359.80" cy="186.40" r="1.7" fill="#000"/>
<rect x="221.50" y="143.20" width="145.10" height="94.10" fill="none" stroke="#6e6e6e" stroke-width="0.8"/>
<line x1="227.50" y1="237.30" x2="227.50" y2="239.00" stroke="#6e6e6e" stroke-width="0.6"/>
<text x="227.50" y="243.60" text-anchor="middle">0</text>
<line x1="244.95" y1="237.30" x2="244.95" y2="239.00" stroke="#6e6e6e" stroke-width="0.6"/>
<text x="244.95" y="243.60" text-anchor="middle">5</text>
<line x1="262.40" y1="237.30" x2="262.40" y2="239.00" stroke="#6e6e6e" stroke-width="0.6"/>
<text x="262.40" y="243.60" text-anchor="middle">10</text>
<line x1="279.85" y1="237.30" x2="279.85" y2="239.00" stroke="#6e6e6e" stroke-width="0.6"/>
<text x="279.85" y="243.60" text-anchor="middle">15</text>
<line x1="297.30" y1="237.30" x2="297.30" y2="239.00" stroke="#6e6e6e" stroke-width="0.6"/>
<text x="297.30" y="243.60" text-anchor="middle">20</text>
<line x1="314.75" y1="237.30" x2="314.75" y2="239.00" stroke="#6e6e6e" stroke-width="0.6"/>
<text x="314.75" y="243.60" text-anchor="middle">25</text>
<line x1="332.20" y1="237.30" x2="332.20" y2="239.00" stroke="#6e6e6e" stroke-width="0.6"/>
<text x="332.20" y="243.60" text-anchor="middle">30</text>
<line x1="349.65" y1="237.30" x2="349.65" y2="239.00" stroke="#6e6e6e" stroke-width="0.6"/>
<text x="349.65" y="243.60" text-anchor="middle">35</text>
<line x1="219.80" y1="231.44" x2="221.50" y2="231.44" stroke="#6e6e6e" stroke-width="0.6"/>
<text x="218.30" y="233.04" text-anchor="end">−0.4</text>
<line x1="219.80" y1="220.18" x2="221.50" y2="220.18" stroke="#6e6e6e" stroke-width="0.6"/>
<text x="218.30" y="221.78" text-anchor="end">−0.3</text>
<line x1="219.80" y1="208.92" x2="221.50" y2="208.92" stroke="#6e6e6e" stroke-width="0.6"/>
<text x="218.30" y="210.52" text-anchor="end">−0.2</text>
<line x1="219.80" y1="197.66" x2="221.50" y2="197.66" stroke="#6e6e6e" stroke-width="0.6"/>
<text x="218.30" y="199.26" text-anchor="end">−0.1</text>
<line x1="219.80" y1="186.40" x2="221.50" y2="186.40" stroke="#6e6e6e" stroke-width="0.6"/>
<text x="218.30" y="188.00" text-anchor="end">0.0</text>
<line x1="219.80" y1="175.14" x2="221.50" y2="175.14" stroke="#6e6e6e" stroke-width="0.6"/>
<text x="218.30" y="176.74" text-anchor="end">0.1</text>
<line x1="219.80" y1="163.88" x2="221.50" y2="163.88" stroke="#6e6e6e" stroke-width="0.6"/>
<text x="218.30" y="165.48" text-anchor="end">0.2</text>
<line x1="219.80" y1="152.62" x2="221.50" y2="152.62" stroke="#6e6e6e" stroke-width="0.6"/>
<text x="218.30" y="154.22" text-anchor="end">0.3</text>
<text x="294.05" y="249.90" text-anchor="middle">velocity in m/s</text>
<text transform="translate(205.50,189.25) rotate(-90) scale(0.92,1)" x="0" y="0" text-anchor="middle">steering angle in rad</text>
<text class="cap" x="291.60" y="265.30" text-anchor="middle">(f)</text>
<line x1="227.50" y1="283.40" x2="227.50" y2="377.40" stroke="#d2d2d2" stroke-width="0.8"/>
<line x1="251.35" y1="283.40" x2="251.35" y2="377.40" stroke="#d2d2d2" stroke-width="0.8"/>
<line x1="275.20" y1="283.40" x2="275.20" y2="377.40" stroke="#d2d2d2" stroke-width="0.8"/>
<line x1="299.05" y1="283.40" x2="299.05" y2="377.40" stroke="#d2d2d2" stroke-width="0.8"/>
<line x1="322.90" y1="283.40" x2="322.90" y2="377.40" stroke="#d2d2d2" stroke-width="0.8"/>
<line x1="346.75" y1="283.40" x2="346.75" y2="377.40" stroke="#d2d2d2" stroke-width="0.8"/>
<line x1="221.50" y1="371.80" x2="366.60" y2="371.80" stroke="#d2d2d2" stroke-width="0.8"/>
<line x1="221.50" y1="360.50" x2="366.60" y2="360.50" stroke="#d2d2d2" stroke-width="0.8"/>
<line x1="221.50" y1="349.20" x2="366.60" y2="349.20" stroke="#d2d2d2" stroke-width="0.8"/>
<line x1="221.50" y1="337.90" x2="366.60" y2="337.90" stroke="#d2d2d2" stroke-width="0.8"/>
<line x1="221.50" y1="326.60" x2="366.60" y2="326.60" stroke="#d2d2d2" stroke-width="0.8"/>
<line x1="221.50" y1="315.30" x2="366.60" y2="315.30" stroke="#d2d2d2" stroke-width="0.8"/>
<line x1="221.50" y1="304.00" x2="366.60" y2="304.00" stroke="#d2d2d2" stroke-width="0.8"/>
<line x1="221.50" y1="292.70" x2="366.60" y2="292.70" stroke="#d2d2d2" stroke-width="0.8"/>
<line x1="227.50" y1="326.60" x2="247.80" y2="326.40" stroke="#7f7f7f" stroke-width="1.0" stroke-opacity="0.85"/>
<line x1="247.80" y1="326.40" x2="277.40" y2="326.60" stroke="#7f7f7f" stroke-width="1.0" stroke-opacity="0.85"/>
<line x1="247.80" y1="326.40" x2="258.40" y2="301.30" stroke="#1f77b4" stroke-width="1.0" stroke-opacity="0.85"/>
<line x1="247.80" y1="326.40" x2="264.30" y2="328.70" stroke="#7f7f7f" stroke-width="1.0" stroke-opacity="0.85"/>
<line x1="247.80" y1="326.40" x2="259.80" y2="352.30" stroke="#8c564b" stroke-width="1.0" stroke-opacity="0.85"/>
<line x1="247.80" y1="326.40" x2="253.30" y2="373.40" stroke="#bcbd22" stroke-width="1.0" stroke-opacity="0.85"/>
<line x1="247.80" y1="326.40" x2="253.00" y2="357.00" stroke="#8c564b" stroke-width="1.0" stroke-opacity="0.85"/>
<line x1="241.80" y1="287.60" x2="258.40" y2="301.30" stroke="#d62728" stroke-width="1.0" stroke-opacity="0.85"/>
<line x1="241.80" y1="287.60" x2="277.40" y2="326.60" stroke="#d62728" stroke-width="1.0" stroke-opacity="0.85"/>
<line x1="241.80" y1="287.60" x2="293.60" y2="326.70" stroke="#d62728" stroke-width="1.0" stroke-opacity="0.85"/>
<line x1="241.80" y1="287.60" x2="286.40" y2="324.80" stroke="#d62728" stroke-width="1.0" stroke-opacity="0.85"/>
<line x1="241.80" y1="287.60" x2="264.40" y2="316.50" stroke="#e377c2" stroke-width="1.0" stroke-opacity="0.85"/>
<line x1="258.40" y1="301.30" x2="277.40" y2="326.60" stroke="#1f77b4" stroke-width="1.0" stroke-opacity="0.85"/>
<line x1="258.40" y1="301.30" x2="286.40" y2="324.80" stroke="#17becf" stroke-width="1.0" stroke-opacity="0.85"/>
<line x1="258.40" y1="301.30" x2="293.60" y2="326.70" stroke="#1f77b4" stroke-width="1.0" stroke-opacity="0.85"/>
<line x1="258.40" y1="301.30" x2="299.80" y2="329.20" stroke="#17becf" stroke-width="1.0" stroke-opacity="0.85"/>
<line x1="258.40" y1="301.30" x2="293.60" y2="326.70" stroke="#17becf" stroke-width="1.0" stroke-opacity="0.85"/>
<line x1="257.90" y1="309.80" x2="277.40" y2="326.60" stroke="#e377c2" stroke-width="1.0" stroke-opacity="0.85"/>
<line x1="257.90" y1="309.80" x2="286.40" y2="324.80" stroke="#2ca02c" stroke-width="1.0" stroke-opacity="0.85"/>
<line x1="257.90" y1="309.80" x2="308.00" y2="326.60" stroke="#ff7f0e" stroke-width="1.0" stroke-opacity="0.85"/>
<line x1="257.90" y1="309.80" x2="293.60" y2="326.70" stroke="#2ca02c" stroke-width="1.0" stroke-opacity="0.85"/>
<line x1="264.40" y1="316.50" x2="293.60" y2="326.70" stroke="#1f77b4" stroke-width="1.0" stroke-opacity="0.85"/>
<line x1="264.40" y1="316.50" x2="286.40" y2="324.80" stroke="#ff7f0e" stroke-width="1.0" stroke-opacity="0.85"/>
<line x1="264.30" y1="321.50" x2="277.40" y2="326.60" stroke="#bcbd22" stroke-width="1.0" stroke-opacity="0.85"/>
<line x1="264.30" y1="321.50" x2="293.60" y2="326.70" stroke="#9467bd" stroke-width="1.0" stroke-opacity="0.85"/>
<line x1="264.30" y1="328.70" x2="277.40" y2="326.60" stroke="#9467bd" stroke-width="1.0" stroke-opacity="0.85"/>
<line x1="264.30" y1="328.70" x2="293.60" y2="326.70" stroke="#9467bd" stroke-width="1.0" stroke-opacity="0.85"/>
<line x1="265.60" y1="333.30" x2="277.40" y2="326.60" stroke="#8c564b" stroke-width="1.0" stroke-opacity="0.85"/>
<line x1="265.60" y1="333.30" x2="293.60" y2="326.70" stroke="#e377c2" stroke-width="1.0" stroke-opacity="0.85"/>
<line x1="277.40" y1="326.60" x2="286.40" y2="324.80" stroke="#1f77b4" stroke-width="1.0" stroke-opacity="0.85"/>
<line x1="277.40" y1="326.60" x2="293.60" y2="326.70" stroke="#7f7f7f" stroke-width="1.0" stroke-opacity="0.85"/>
<line x1="273.80" y1="337.50" x2="286.40" y2="324.80" stroke="#1f77b4" stroke-width="1.0" stroke-opacity="0.85"/>
<line x1="273.80" y1="337.50" x2="293.60" y2="326.70" stroke="#2ca02c" stroke-width="1.0" stroke-opacity="0.85"/>
<line x1="273.80" y1="337.50" x2="299.80" y2="329.20" stroke="#ff7f0e" stroke-width="1.0" stroke-opacity="0.85"/>
<line x1="269.60" y1="343.70" x2="286.40" y2="324.80" stroke="#1f77b4" stroke-width="1.0" stroke-opacity="0.85"/>
<line x1="269.60" y1="343.70" x2="299.80" y2="329.20" stroke="#bcbd22" stroke-width="1.0" stroke-opacity="0.85"/>
<line x1="259.80" y1="352.30" x2="277.40" y2="326.60" stroke="#e377c2" stroke-width="1.0" stroke-opacity="0.85"/>
<line x1="259.80" y1="352.30" x2="299.80" y2="329.20" stroke="#7f7f7f" stroke-width="1.0" stroke-opacity="0.85"/>
<line x1="253.00" y1="357.00" x2="359.60" y2="326.60" stroke="#9467bd" stroke-width="1.0" stroke-opacity="0.85"/>
<line x1="253.00" y1="357.00" x2="273.80" y2="337.50" stroke="#e377c2" stroke-width="1.0" stroke-opacity="0.85"/>
<line x1="253.00" y1="357.00" x2="264.30" y2="328.70" stroke="#17becf" stroke-width="1.0" stroke-opacity="0.85"/>
<line x1="253.30" y1="373.40" x2="259.80" y2="352.30" stroke="#ff7f0e" stroke-width="1.0" stroke-opacity="0.85"/>
<line x1="253.30" y1="373.40" x2="277.40" y2="326.60" stroke="#1f77b4" stroke-width="1.0" stroke-opacity="0.85"/>
<line x1="286.40" y1="324.80" x2="308.00" y2="326.60" stroke="#d62728" stroke-width="1.0" stroke-opacity="0.85"/>
<line x1="293.60" y1="326.70" x2="308.00" y2="326.60" stroke="#9467bd" stroke-width="1.0" stroke-opacity="0.85"/>
<line x1="299.80" y1="329.20" x2="308.00" y2="326.60" stroke="#ff7f0e" stroke-width="1.0" stroke-opacity="0.85"/>
<line x1="286.40" y1="324.80" x2="324.40" y2="326.60" stroke="#9467bd" stroke-width="1.0" stroke-opacity="0.85"/>
<line x1="308.00" y1="326.60" x2="324.40" y2="326.60" stroke="#bcbd22" stroke-width="1.0" stroke-opacity="0.85"/>
<line x1="324.40" y1="326.60" x2="359.60" y2="326.60" stroke="#ff7f0e" stroke-width="1.0" stroke-opacity="0.85"/>
<circle cx="227.50" cy="326.60" r="1.7" fill="#000"/>
<circle cx="241.80" cy="287.60" r="1.7" fill="#000"/>
<circle cx="247.80" cy="326.40" r="1.7" fill="#000"/>
<circle cx="258.40" cy="301.30" r="1.7" fill="#000"/>
<circle cx="257.90" cy="309.80" r="1.7" fill="#000"/>
<circle cx="264.40" cy="316.50" r="1.7" fill="#000"/>
<circle cx="264.30" cy="321.50" r="1.7" fill="#000"/>
<circle cx="264.30" cy="328.70" r="1.7" fill="#000"/>
<circle cx="265.60" cy="333.30" r="1.7" fill="#000"/>
<circle cx="277.40" cy="326.60" r="1.7" fill="#000"/>
<circle cx="273.80" cy="337.50" r="1.7" fill="#000"/>
<circle cx="269.60" cy="343.70" r="1.7" fill="#000"/>
<circle cx="259.80" cy="352.30" r="1.7" fill="#000"/>
<circle cx="253.00" cy="357.00" r="1.7" fill="#000"/>
<circle cx="253.30" cy="373.40" r="1.7" fill="#000"/>
<circle cx="286.40" cy="324.80" r="1.7" fill="#000"/>
<circle cx="293.60" cy="326.70" r="1.7" fill="#000"/>
<circle cx="299.80" cy="329.20" r="1.7" fill="#000"/>
<circle cx="308.00" cy="326.60" r="1.7" fill="#000"/>
<circle cx="324.40" cy="326.60" r="1.7" fill="#000"/>
<circle cx="359.60" cy="326.60" r="1.7" fill="#000"/>
<rect x="221.50" y="283.40" width="145.10" height="94.00" fill="none" stroke="#6e6e6e" stroke-width="0.8"/>
<line x1="227.50" y1="377.40" x2="227.50" y2="379.10" stroke="#6e6e6e" stroke-width="0.6"/>
<text x="227.50" y="383.70" text-anchor="middle">0</text>
<line x1="251.35" y1="377.40" x2="251.35" y2="379.10" stroke="#6e6e6e" stroke-width="0.6"/>
<text x="251.35" y="383.70" text-anchor="middle">10</text>
<line x1="275.20" y1="377.40" x2="275.20" y2="379.10" stroke="#6e6e6e" stroke-width="0.6"/>
<text x="275.20" y="383.70" text-anchor="middle">20</text>
<line x1="299.05" y1="377.40" x2="299.05" y2="379.10" stroke="#6e6e6e" stroke-width="0.6"/>
<text x="299.05" y="383.70" text-anchor="middle">30</text>
<line x1="322.90" y1="377.40" x2="322.90" y2="379.10" stroke="#6e6e6e" stroke-width="0.6"/>
<text x="322.90" y="383.70" text-anchor="middle">40</text>
<line x1="346.75" y1="377.40" x2="346.75" y2="379.10" stroke="#6e6e6e" stroke-width="0.6"/>
<text x="346.75" y="383.70" text-anchor="middle">50</text>
<line x1="219.80" y1="371.80" x2="221.50" y2="371.80" stroke="#6e6e6e" stroke-width="0.6"/>
<text x="218.30" y="373.40" text-anchor="end">−0.4</text>
<line x1="219.80" y1="360.50" x2="221.50" y2="360.50" stroke="#6e6e6e" stroke-width="0.6"/>
<text x="218.30" y="362.10" text-anchor="end">−0.3</text>
<line x1="219.80" y1="349.20" x2="221.50" y2="349.20" stroke="#6e6e6e" stroke-width="0.6"/>
<text x="218.30" y="350.80" text-anchor="end">−0.2</text>
<line x1="219.80" y1="337.90" x2="221.50" y2="337.90" stroke="#6e6e6e" stroke-width="0.6"/>
<text x="218.30" y="339.50" text-anchor="end">−0.1</text>
<line x1="219.80" y1="326.60" x2="221.50" y2="326.60" stroke="#6e6e6e" stroke-width="0.6"/>
<text x="218.30" y="328.20" text-anchor="end">0.0</text>
<line x1="219.80" y1="315.30" x2="221.50" y2="315.30" stroke="#6e6e6e" stroke-width="0.6"/>
<text x="218.30" y="316.90" text-anchor="end">0.1</text>
<line x1="219.80" y1="304.00" x2="221.50" y2="304.00" stroke="#6e6e6e" stroke-width="0.6"/>
<text x="218.30" y="305.60" text-anchor="end">0.2</text>
<line x1="219.80" y1="292.70" x2="221.50" y2="292.70" stroke="#6e6e6e" stroke-width="0.6"/>
<text x="218.30" y="294.30" text-anchor="end">0.3</text>
<text x="294.05" y="390.00" text-anchor="middle">velocity in m/s</text>
<text transform="translate(205.50,329.40) rotate(-90) scale(0.92,1)" x="0" y="0" text-anchor="middle">steering angle in rad</text>
<text class="cap" x="291.60" y="405.30" text-anchor="middle">(h)</text>
<line x1="227.50" y1="423.40" x2="227.50" y2="517.40" stroke="#d2d2d2" stroke-width="0.8"/>
<line x1="251.35" y1="423.40" x2="251.35" y2="517.40" stroke="#d2d2d2" stroke-width="0.8"/>
<line x1="275.20" y1="423.40" x2="275.20" y2="517.40" stroke="#d2d2d2" stroke-width="0.8"/>
<line x1="299.05" y1="423.40" x2="299.05" y2="517.40" stroke="#d2d2d2" stroke-width="0.8"/>
<line x1="322.90" y1="423.40" x2="322.90" y2="517.40" stroke="#d2d2d2" stroke-width="0.8"/>
<line x1="346.75" y1="423.40" x2="346.75" y2="517.40" stroke="#d2d2d2" stroke-width="0.8"/>
<line x1="221.50" y1="512.00" x2="366.60" y2="512.00" stroke="#d2d2d2" stroke-width="0.8"/>
<line x1="221.50" y1="500.70" x2="366.60" y2="500.70" stroke="#d2d2d2" stroke-width="0.8"/>
<line x1="221.50" y1="489.40" x2="366.60" y2="489.40" stroke="#d2d2d2" stroke-width="0.8"/>
<line x1="221.50" y1="478.10" x2="366.60" y2="478.10" stroke="#d2d2d2" stroke-width="0.8"/>
<line x1="221.50" y1="466.80" x2="366.60" y2="466.80" stroke="#d2d2d2" stroke-width="0.8"/>
<line x1="221.50" y1="455.50" x2="366.60" y2="455.50" stroke="#d2d2d2" stroke-width="0.8"/>
<line x1="221.50" y1="444.20" x2="366.60" y2="444.20" stroke="#d2d2d2" stroke-width="0.8"/>
<line x1="221.50" y1="432.90" x2="366.60" y2="432.90" stroke="#d2d2d2" stroke-width="0.8"/>
<line x1="227.50" y1="466.80" x2="246.70" y2="466.80" stroke="#1f77b4" stroke-width="1.0" stroke-opacity="0.85"/>
<line x1="227.50" y1="466.80" x2="255.90" y2="473.10" stroke="#9467bd" stroke-width="1.0" stroke-opacity="0.85"/>
<line x1="246.70" y1="466.80" x2="275.40" y2="466.60" stroke="#e377c2" stroke-width="1.0" stroke-opacity="0.85"/>
<line x1="241.90" y1="428.00" x2="246.70" y2="466.80" stroke="#9467bd" stroke-width="1.0" stroke-opacity="0.85"/>
<line x1="241.90" y1="428.00" x2="250.70" y2="465.00" stroke="#8c564b" stroke-width="1.0" stroke-opacity="0.85"/>
<line x1="241.90" y1="428.00" x2="258.30" y2="441.40" stroke="#8c564b" stroke-width="1.0" stroke-opacity="0.85"/>
<line x1="241.90" y1="428.00" x2="268.80" y2="461.20" stroke="#17becf" stroke-width="1.0" stroke-opacity="0.85"/>
<line x1="241.90" y1="428.00" x2="275.40" y2="466.60" stroke="#17becf" stroke-width="1.0" stroke-opacity="0.85"/>
<line x1="258.30" y1="441.40" x2="308.30" y2="465.60" stroke="#1f77b4" stroke-width="1.0" stroke-opacity="0.85"/>
<line x1="258.30" y1="441.40" x2="291.80" y2="466.70" stroke="#1f77b4" stroke-width="1.0" stroke-opacity="0.85"/>
<line x1="258.30" y1="441.40" x2="275.40" y2="466.60" stroke="#2ca02c" stroke-width="1.0" stroke-opacity="0.85"/>
<line x1="258.30" y1="441.40" x2="281.40" y2="465.00" stroke="#a9a86a" stroke-width="1.0" stroke-opacity="0.85"/>
<line x1="257.90" y1="450.40" x2="291.80" y2="466.70" stroke="#bcbd22" stroke-width="1.0" stroke-opacity="0.85"/>
<line x1="257.90" y1="450.40" x2="281.40" y2="465.00" stroke="#2ca02c" stroke-width="1.0" stroke-opacity="0.85"/>
<line x1="257.90" y1="450.40" x2="275.40" y2="466.60" stroke="#17becf" stroke-width="1.0" stroke-opacity="0.85"/>
<line x1="261.50" y1="456.70" x2="256.40" y2="469.60" stroke="#17becf" stroke-width="1.0" stroke-opacity="0.85"/>
<line x1="261.50" y1="456.70" x2="275.40" y2="466.60" stroke="#d62728" stroke-width="1.0" stroke-opacity="0.85"/>
<line x1="268.80" y1="461.20" x2="291.80" y2="466.70" stroke="#ff7f0e" stroke-width="1.0" stroke-opacity="0.85"/>
<line x1="250.70" y1="465.00" x2="253.20" y2="513.30" stroke="#d62728" stroke-width="1.0" stroke-opacity="0.85"/>
<line x1="250.70" y1="465.00" x2="275.40" y2="466.60" stroke="#e377c2" stroke-width="1.0" stroke-opacity="0.85"/>
<line x1="255.90" y1="473.10" x2="255.10" y2="495.90" stroke="#ff7f0e" stroke-width="1.0" stroke-opacity="0.85"/>
<line x1="256.40" y1="469.60" x2="291.80" y2="466.70" stroke="#2ca02c" stroke-width="1.0" stroke-opacity="0.85"/>
<line x1="255.90" y1="473.10" x2="280.00" y2="468.10" stroke="#bcbd22" stroke-width="1.0" stroke-opacity="0.85"/>
<line x1="275.40" y1="466.60" x2="291.80" y2="466.70" stroke="#7f7f7f" stroke-width="1.0" stroke-opacity="0.85"/>
<line x1="281.40" y1="465.00" x2="308.30" y2="465.60" stroke="#9467bd" stroke-width="1.0" stroke-opacity="0.85"/>
<line x1="280.00" y1="468.10" x2="308.30" y2="465.60" stroke="#e377c2" stroke-width="1.0" stroke-opacity="0.85"/>
<line x1="283.80" y1="475.00" x2="308.30" y2="465.60" stroke="#ff7f0e" stroke-width="1.0" stroke-opacity="0.85"/>
<line x1="269.50" y1="484.00" x2="305.30" y2="468.20" stroke="#2ca02c" stroke-width="1.0" stroke-opacity="0.85"/>
<line x1="273.10" y1="478.60" x2="291.50" y2="471.00" stroke="#ff7f0e" stroke-width="1.0" stroke-opacity="0.85"/>
<line x1="269.50" y1="484.00" x2="291.50" y2="471.00" stroke="#1f77b4" stroke-width="1.0" stroke-opacity="0.85"/>
<line x1="261.20" y1="490.50" x2="283.80" y2="475.00" stroke="#1f77b4" stroke-width="1.0" stroke-opacity="0.85"/>
<line x1="261.20" y1="490.50" x2="291.80" y2="466.70" stroke="#8c564b" stroke-width="1.0" stroke-opacity="0.85"/>
<line x1="255.10" y1="495.90" x2="275.40" y2="466.60" stroke="#d62728" stroke-width="1.0" stroke-opacity="0.85"/>
<line x1="255.10" y1="495.90" x2="291.80" y2="466.70" stroke="#1f77b4" stroke-width="1.0" stroke-opacity="0.85"/>
<line x1="253.20" y1="513.30" x2="269.50" y2="484.00" stroke="#8f8a55" stroke-width="1.0" stroke-opacity="0.85"/>
<line x1="291.80" y1="466.70" x2="308.30" y2="465.60" stroke="#1f77b4" stroke-width="1.0" stroke-opacity="0.85"/>
<line x1="291.50" y1="471.00" x2="308.30" y2="465.60" stroke="#2ca02c" stroke-width="1.0" stroke-opacity="0.85"/>
<line x1="305.30" y1="468.20" x2="324.60" y2="466.60" stroke="#8c564b" stroke-width="1.0" stroke-opacity="0.85"/>
<line x1="324.60" y1="466.60" x2="359.60" y2="466.60" stroke="#8c564b" stroke-width="1.0" stroke-opacity="0.85"/>
<line x1="283.80" y1="475.00" x2="305.30" y2="468.20" stroke="#2ca02c" stroke-width="1.0" stroke-opacity="0.85"/>
<line x1="308.30" y1="465.60" x2="324.60" y2="466.60" stroke="#8c564b" stroke-width="1.0" stroke-opacity="0.85"/>
<circle cx="227.50" cy="466.80" r="1.7" fill="#000"/>
<circle cx="241.90" cy="428.00" r="1.7" fill="#000"/>
<circle cx="246.70" cy="466.80" r="1.7" fill="#000"/>
<circle cx="250.70" cy="465.00" r="1.7" fill="#000"/>
<circle cx="258.30" cy="441.40" r="1.7" fill="#000"/>
<circle cx="257.90" cy="450.40" r="1.7" fill="#000"/>
<circle cx="261.50" cy="456.70" r="1.7" fill="#000"/>
<circle cx="256.40" cy="469.60" r="1.7" fill="#000"/>
<circle cx="255.90" cy="473.10" r="1.7" fill="#000"/>
<circle cx="268.80" cy="461.20" r="1.7" fill="#000"/>
<circle cx="275.40" cy="466.60" r="1.7" fill="#000"/>
<circle cx="281.40" cy="465.00" r="1.7" fill="#000"/>
<circle cx="280.00" cy="468.10" r="1.7" fill="#000"/>
<circle cx="283.80" cy="475.00" r="1.7" fill="#000"/>
<circle cx="273.10" cy="478.60" r="1.7" fill="#000"/>
<circle cx="269.50" cy="484.00" r="1.7" fill="#000"/>
<circle cx="261.20" cy="490.50" r="1.7" fill="#000"/>
<circle cx="255.10" cy="495.90" r="1.7" fill="#000"/>
<circle cx="253.20" cy="513.30" r="1.7" fill="#000"/>
<circle cx="291.80" cy="466.70" r="1.7" fill="#000"/>
<circle cx="291.50" cy="471.00" r="1.7" fill="#000"/>
<circle cx="305.30" cy="468.20" r="1.7" fill="#000"/>
<circle cx="308.30" cy="465.60" r="1.7" fill="#000"/>
<circle cx="324.60" cy="466.60" r="1.7" fill="#000"/>
<circle cx="359.60" cy="466.60" r="1.7" fill="#000"/>
<rect x="221.50" y="423.40" width="145.10" height="94.00" fill="none" stroke="#6e6e6e" stroke-width="0.8"/>
<line x1="227.50" y1="517.40" x2="227.50" y2="519.10" stroke="#6e6e6e" stroke-width="0.6"/>
<text x="227.50" y="523.70" text-anchor="middle">0</text>
<line x1="251.35" y1="517.40" x2="251.35" y2="519.10" stroke="#6e6e6e" stroke-width="0.6"/>
<text x="251.35" y="523.70" text-anchor="middle">10</text>
<line x1="275.20" y1="517.40" x2="275.20" y2="519.10" stroke="#6e6e6e" stroke-width="0.6"/>
<text x="275.20" y="523.70" text-anchor="middle">20</text>
<line x1="299.05" y1="517.40" x2="299.05" y2="519.10" stroke="#6e6e6e" stroke-width="0.6"/>
<text x="299.05" y="523.70" text-anchor="middle">30</text>
<line x1="322.90" y1="517.40" x2="322.90" y2="519.10" stroke="#6e6e6e" stroke-width="0.6"/>
<text x="322.90" y="523.70" text-anchor="middle">40</text>
<line x1="346.75" y1="517.40" x2="346.75" y2="519.10" stroke="#6e6e6e" stroke-width="0.6"/>
<text x="346.75" y="523.70" text-anchor="middle">50</text>
<line x1="219.80" y1="512.00" x2="221.50" y2="512.00" stroke="#6e6e6e" stroke-width="0.6"/>
<text x="218.30" y="513.60" text-anchor="end">−0.4</text>
<line x1="219.80" y1="500.70" x2="221.50" y2="500.70" stroke="#6e6e6e" stroke-width="0.6"/>
<text x="218.30" y="502.30" text-anchor="end">−0.3</text>
<line x1="219.80" y1="489.40" x2="221.50" y2="489.40" stroke="#6e6e6e" stroke-width="0.6"/>
<text x="218.30" y="491.00" text-anchor="end">−0.2</text>
<line x1="219.80" y1="478.10" x2="221.50" y2="478.10" stroke="#6e6e6e" stroke-width="0.6"/>
<text x="218.30" y="479.70" text-anchor="end">−0.1</text>
<line x1="219.80" y1="466.80" x2="221.50" y2="466.80" stroke="#6e6e6e" stroke-width="0.6"/>
<text x="218.30" y="468.40" text-anchor="end">0.0</text>
<line x1="219.80" y1="455.50" x2="221.50" y2="455.50" stroke="#6e6e6e" stroke-width="0.6"/>
<text x="218.30" y="457.10" text-anchor="end">0.1</text>
<line x1="219.80" y1="444.20" x2="221.50" y2="444.20" stroke="#6e6e6e" stroke-width="0.6"/>
<text x="218.30" y="445.80" text-anchor="end">0.2</text>
<line x1="219.80" y1="432.90" x2="221.50" y2="432.90" stroke="#6e6e6e" stroke-width="0.6"/>
<text x="218.30" y="434.50" text-anchor="end">0.3</text>
<text x="294.05" y="530.00" text-anchor="middle">velocity in m/s</text>
<text transform="translate(205.50,469.40) rotate(-90) scale(0.92,1)" x="0" y="0" text-anchor="middle">steering angle in rad</text>
<text class="cap" x="291.60" y="545.30" text-anchor="middle">(j)</text>
</svg>
</body></html>
